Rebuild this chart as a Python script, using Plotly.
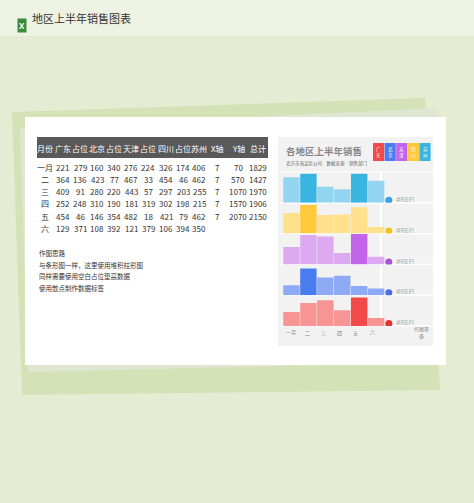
import plotly.graph_objects as go
from plotly.subplots import make_subplots

W, H = 474, 503

# datos
meses = ["一月", "二", "三", "四", "五", "六"]
guangdong = [221, 364, 409, 252, 454, 129]
zw1 = [279, 136, 91, 248, 46, 371]
beijing = [160, 423, 280, 310, 146, 108]
zw2 = [340, 77, 220, 190, 354, 392]
tianjin = [276, 467, 443, 181, 482, 121]
zw3 = [224, 33, 57, 319, 18, 379]
sichuan = [326, 454, 297, 302, 421, 106]
zw4 = [174, 46, 203, 198, 79, 394]
suzhou = [406, 462, 255, 215, 462, 350]
x_axis = [7, 7, 7, 7, 7, ""]
y_axis = [70, 570, 1070, 1570, 2070, ""]
total = [1829, 1427, 1970, 1906, 2150, ""]
header = ["月份", "广东", "占位", "北京", "占位", "天津", "占位", "四川", "占位", "苏州", "X轴", "Y轴", "总计"]
eje_x = ["一月", "二", "三", "四", "五", "六"]

# bandas de arriba a abajo
bandas = [
    (suzhou, "#93d5f0", "#3ab4e0", "#3d9fe6"),
    (sichuan, "#ffe08c", "#ffc93a", "#f2c31c"),
    (tianjin, "#ddaaf2", "#c264ea", "#a655d6"),
    (beijing, "#8eaaf5", "#4a7cf0", "#4a6fe0"),
    (guangdong, "#f79494", "#f24a4a", "#e03434"),
]

def px(x):
    return x / W

def py(y):
    return 1 - y / H

fig = make_subplots(rows=5, cols=1, vertical_spacing=0)

band_top, band_h = 172, 30.8
for i, (vals, light, dark, dot) in enumerate(bandas):
    r = i + 1
    m = max(vals)
    cols = [dark if v == m else light for v in vals]
    fig.add_trace(go.Bar(x=list(range(6)), y=vals, marker_color=cols, marker_line_width=0,
                         width=0.97, showlegend=False), row=r, col=1)
    fig.add_trace(go.Scatter(x=[5.75], y=[40], mode="markers+text", text=[" #REF!"],
                             textposition="middle right", textfont=dict(size=7, color="#aaaaaa"),
                             marker=dict(size=7, color=dot), showlegend=False), row=r, col=1)
    t = band_top + i * band_h
    fig.update_yaxes(range=[0, 490], domain=[py(t + band_h), py(t)], visible=False, row=r, col=1)
    fig.update_xaxes(range=[-0.5, 8.3], domain=[px(283), px(432)], visible=False, row=r, col=1)

shapes = []
def rect(x0, y0, x1, y1, color, line=None):
    shapes.append(dict(type="rect", xref="paper", yref="paper", x0=px(x0), x1=px(x1),
                       y0=py(y1), y1=py(y0), fillcolor=color, line=dict(width=0), layer="below"))

def poly(pts, color):
    p = "M " + " L ".join(f"{px(a)},{py(b)}" for a, b in pts) + " Z"
    shapes.append(dict(type="path", xref="paper", yref="paper", path=p, fillcolor=color,
                       line=dict(width=0), layer="below"))

rect(0, 0, W, H, "#e6ecd4")
rect(0, 0, W, 36, "#eef2e2")
poly([(12, 112), (425, 98), (440, 390), (22, 395)], "#d5e2b8")
poly([(20, 128), (438, 108), (445, 362), (28, 372)], "#dfe6d2")
rect(25, 117, 446, 365, "#ffffff")
rect(37, 137, 268, 158, "#595959")
rect(278, 137, 433, 346, "#f2f2f2")
for i in range(6):
    y = band_top + i * band_h
    rect(280, y - 0.6, 433, y + 0.6, "#ffffff")
rect(380, 172, 382, 326, "#ffffff")
tabs = [("广东", "#f24a4a"), ("北京", "#4a7cf0"), ("天津", "#c264ea"), ("四川", "#ffc93a"), ("苏州", "#3ab4e0")]
for k, (n, c) in enumerate(tabs):
    x0 = 373 + k * 11.6
    shapes.append(dict(type="rect", xref="paper", yref="paper", x0=px(x0), x1=px(x0 + 11.2),
                       y0=py(161), y1=py(143), fillcolor=c, line=dict(width=0)))

ann = []
def txt(x, y, s, size=8, color="#333333", anchor="center", family="Noto Sans CJK SC"):
    ann.append(dict(x=px(x), y=py(y), xref="paper", yref="paper", text=s, showarrow=False,
                    xanchor=anchor, yanchor="middle", font=dict(size=size, color=color, family=family)))

txt(30, 18, "地区上半年销售图表", 11, "#333333", "left")
ann.append(dict(x=px(17), y=py(18), xref="paper", yref="paper", text="<b>X</b>", showarrow=False,
                font=dict(size=8, color="#ffffff"), bgcolor="#3a8a3a"))

colx = [45, 63, 80, 97, 114, 131, 148, 166, 183, 199, 217, 238, 258]
for c, h in zip(colx, header):
    txt(c, 148, h, 8, "#ffffff")
rows = list(zip(meses, guangdong, zw1, beijing, zw2, tianjin, zw3, sichuan, zw4, suzhou, x_axis, y_axis, total))
for j, row in enumerate(rows):
    y = 167 + j * 12.3
    for c, v in zip(colx, row):
        txt(c, y, str(v), 8, "#333333")

notas = ["作图思路", "与条形图一样，这里使用堆积柱形图", "同样需要使用空白占位垫高数据", "使用散点制作数据标签"]
for j, s in enumerate(notas):
    txt(37, 253 + j * 11.5, s, 6.5, "#333333", "left")

txt(284, 151, "<b>各地区上半年销售</b>", 9.5, "#888888", "left")
txt(284, 164, "北京市海淀区公司　数据来源　销售部门", 4.5, "#666666", "left")
for k, (n, c) in enumerate(tabs):
    txt(373 + k * 11.6 + 5.6, 152, n[0] + "<br>" + n[1], 4.5, "#ffffff")
for k, m in enumerate(eje_x):
    txt(291 + k * 16.2, 332, m, 5, "#888888")
txt(421, 332, "作图筹<br>备", 5, "#888888")

fig.update_layout(width=W, height=H, margin=dict(l=0, r=0, t=0, b=0), bargap=0.03,
                  paper_bgcolor="#e6ecd4", plot_bgcolor="rgba(0,0,0,0)",
                  shapes=shapes, annotations=ann)
fig.write_html("out.html", config={"displayModeBar": False},
               post_script="document.body.style.margin='0';document.body.style.background='#e6ecd4';")
